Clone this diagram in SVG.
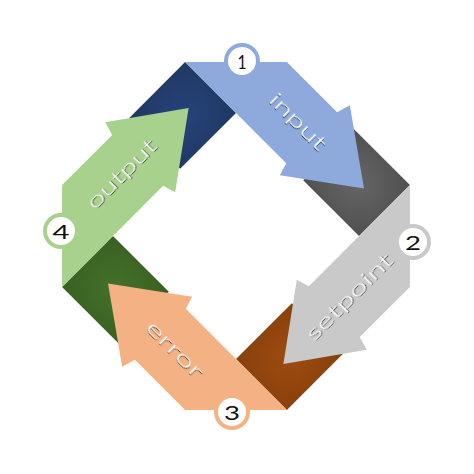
<svg xmlns="http://www.w3.org/2000/svg" xmlns:xlink="http://www.w3.org/1999/xlink" width="474" height="474" viewBox="0 0 474 474">
  <style>
    .lbl { font-family: Lato, "Open Sans", "DejaVu Sans", sans-serif; font-weight: 300; font-size: 19px; fill: #ffffff; text-anchor: middle; filter: url(#sh); }
    .num { font-family: Lato, "Open Sans", "DejaVu Sans", sans-serif; font-weight: 400; font-size: 19px; fill: #111111; text-anchor: middle; dominant-baseline: central; }
    .badge { fill: #ffffff; stroke-width: 4; }
  </style>
  <defs>
    <path id="arrow" d="M -87 -159 L -16 -159 L -12 -173 L 57 -124 L -12 -74 L -16 -87 L -159 -87 Z"/>
    <path id="corner" d="M 8 -159 L 87 -159 L 87 -87 L 8 -87 Z"/>
    <radialGradient id="gGrey" cx="50%" cy="50%" r="85%">
      <stop offset="0" stop-color="#656565"/>
      <stop offset="1" stop-color="#4c4c4c"/>
    </radialGradient>
    <radialGradient id="gOrange" cx="50%" cy="50%" r="85%">
      <stop offset="0" stop-color="#9e4c10"/>
      <stop offset="1" stop-color="#833d0b"/>
    </radialGradient>
    <radialGradient id="gGreen" cx="50%" cy="50%" r="85%">
      <stop offset="0" stop-color="#44712a"/>
      <stop offset="1" stop-color="#375c21"/>
    </radialGradient>
    <radialGradient id="gBlue" cx="50%" cy="50%" r="85%">
      <stop offset="0" stop-color="#26437a"/>
      <stop offset="1" stop-color="#1e365f"/>
    </radialGradient>
    <filter id="sh" x="-20%" y="-60%" width="140%" height="220%">
      <feDropShadow dx="0.6" dy="0.9" stdDeviation="0.35" flood-color="#1a1a1a" flood-opacity="0.9"/>
    </filter>
  </defs>
  <rect width="474" height="474" fill="#ffffff"/>

  <g id="corners">
    <use xlink:href="#corner" href="#corner" transform="translate(236,236) rotate(45)" fill="url(#gGrey)"/>
    <use xlink:href="#corner" href="#corner" transform="translate(236,236) rotate(135)" fill="url(#gOrange)"/>
    <use xlink:href="#corner" href="#corner" transform="translate(236,236) rotate(225)" fill="url(#gGreen)"/>
    <use xlink:href="#corner" href="#corner" transform="translate(236,236) rotate(315)" fill="url(#gBlue)"/>
  </g>

  <g id="step1-input">
    <g transform="translate(236,236) rotate(45)">
      <use xlink:href="#arrow" href="#arrow" fill="#8eaadc"/>
      <text class="lbl" x="-37" y="-118" textLength="72" lengthAdjust="spacingAndGlyphs">input</text>
    </g>
    <circle class="badge" cx="242" cy="61" r="16" stroke="#8eaadc"/>
    <text class="num" x="242" y="61" textLength="9" lengthAdjust="spacingAndGlyphs">1</text>
  </g>

  <g id="step2-setpoint">
    <g transform="translate(236,236) rotate(135)">
      <use xlink:href="#arrow" href="#arrow" fill="#c9c9c9"/>
      <text class="lbl" x="-37" y="-118" transform="rotate(180,-37,-124)" textLength="114" lengthAdjust="spacingAndGlyphs">setpoint</text>
    </g>
    <circle class="badge" cx="413" cy="242" r="16" stroke="#c9c9c9"/>
    <text class="num" x="413" y="242" textLength="16" lengthAdjust="spacingAndGlyphs">2</text>
  </g>

  <g id="step3-error">
    <g transform="translate(236,236) rotate(225)">
      <use xlink:href="#arrow" href="#arrow" fill="#f4b183"/>
      <text class="lbl" x="-37" y="-118" transform="rotate(180,-37,-124)" textLength="72" lengthAdjust="spacingAndGlyphs">error</text>
    </g>
    <circle class="badge" cx="232" cy="412" r="16" stroke="#f4b183"/>
    <text class="num" x="232" y="412" textLength="16" lengthAdjust="spacingAndGlyphs">3</text>
  </g>

  <g id="step4-output">
    <g transform="translate(236,236) rotate(315)">
      <use xlink:href="#arrow" href="#arrow" fill="#a9d18e"/>
      <text class="lbl" x="-37" y="-118" textLength="90" lengthAdjust="spacingAndGlyphs">output</text>
    </g>
    <circle class="badge" cx="61" cy="231" r="16" stroke="#a9d18e"/>
    <text class="num" x="61" y="231" textLength="17" lengthAdjust="spacingAndGlyphs">4</text>
  </g>
</svg>
